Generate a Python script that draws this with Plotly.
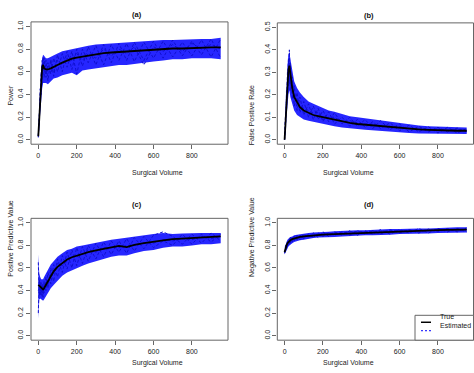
import plotly.graph_objects as go

W, H = 474, 373

# ---------------- data ----------------
volume = [0, 5, 10, 15, 20, 25, 30, 40, 50, 65, 80, 100, 125, 150, 175, 200, 230, 260, 300,
          340, 380, 420, 460, 500, 550, 600, 650, 700, 750, 800, 850, 900, 950]

power_true = [0.03, 0.20, 0.38, 0.52, 0.64, 0.66, 0.63, 0.62, 0.62, 0.63, 0.645, 0.66, 0.68, 0.70, 0.715, 0.725, 0.735,
              0.745, 0.755, 0.765, 0.77, 0.775, 0.78, 0.785, 0.79, 0.795, 0.80, 0.805, 0.805, 0.81, 0.81, 0.815, 0.815]
power_lo = [0.01, 0.12, 0.25, 0.38, 0.45, 0.50, 0.50, 0.50, 0.49, 0.52, 0.54, 0.55, 0.57, 0.58, 0.59, 0.57, 0.61,
            0.62, 0.63, 0.64, 0.65, 0.66, 0.66, 0.67, 0.68, 0.69, 0.70, 0.71, 0.71, 0.72, 0.72, 0.72, 0.71]
power_hi = [0.05, 0.30, 0.50, 0.62, 0.72, 0.75, 0.74, 0.72, 0.72, 0.73, 0.74, 0.76, 0.78, 0.79, 0.80, 0.81, 0.82,
            0.83, 0.84, 0.845, 0.85, 0.855, 0.86, 0.86, 0.87, 0.875, 0.88, 0.88, 0.885, 0.885, 0.89, 0.89, 0.90]
power_est1 = [0.02, 0.22, 0.30, 0.55, 0.70, 0.60, 0.72, 0.55, 0.68, 0.58, 0.72, 0.60, 0.76, 0.64, 0.78, 0.58, 0.80,
              0.68, 0.83, 0.66, 0.84, 0.70, 0.85, 0.69, 0.86, 0.72, 0.87, 0.73, 0.86, 0.74, 0.88, 0.73, 0.89]
power_est2 = [0.04, 0.15, 0.45, 0.40, 0.58, 0.73, 0.55, 0.70, 0.52, 0.71, 0.56, 0.75, 0.60, 0.78, 0.62, 0.80, 0.65,
              0.82, 0.66, 0.84, 0.68, 0.85, 0.70, 0.86, 0.70, 0.87, 0.72, 0.88, 0.74, 0.87, 0.75, 0.89, 0.72]
power_est3 = [0.03, 0.27, 0.35, 0.60, 0.50, 0.68, 0.65, 0.58, 0.64, 0.68, 0.60, 0.70, 0.66, 0.72, 0.70, 0.76, 0.70,
              0.76, 0.72, 0.80, 0.74, 0.80, 0.76, 0.82, 0.66, 0.82, 0.78, 0.84, 0.78, 0.85, 0.80, 0.84, 0.80]

fpr_true = [0.0, 0.08, 0.17, 0.25, 0.31, 0.33, 0.29, 0.23, 0.19, 0.165, 0.145, 0.13, 0.12, 0.11, 0.105, 0.10, 0.095,
            0.09, 0.082, 0.075, 0.07, 0.067, 0.064, 0.06, 0.056, 0.052, 0.048, 0.046, 0.044, 0.042, 0.041, 0.04, 0.04]
fpr_lo = [0.0, 0.03, 0.10, 0.16, 0.20, 0.22, 0.19, 0.16, 0.13, 0.11, 0.10, 0.09, 0.085, 0.08, 0.075, 0.07, 0.065,
          0.06, 0.055, 0.05, 0.048, 0.045, 0.042, 0.04, 0.037, 0.034, 0.03, 0.028, 0.027, 0.026, 0.026, 0.025, 0.025]
fpr_hi = [0.01, 0.14, 0.25, 0.33, 0.38, 0.39, 0.36, 0.30, 0.26, 0.23, 0.21, 0.19, 0.17, 0.16, 0.15, 0.14, 0.13,
          0.125, 0.115, 0.105, 0.10, 0.095, 0.09, 0.085, 0.08, 0.075, 0.068, 0.063, 0.06, 0.058, 0.057, 0.056, 0.055]
fpr_est1 = [0.0, 0.12, 0.13, 0.30, 0.24, 0.40, 0.22, 0.28, 0.15, 0.21, 0.12, 0.17, 0.10, 0.15, 0.09, 0.13, 0.08,
            0.12, 0.07, 0.10, 0.06, 0.09, 0.05, 0.085, 0.045, 0.07, 0.035, 0.06, 0.035, 0.055, 0.035, 0.052, 0.035]
fpr_est2 = [0.01, 0.05, 0.22, 0.20, 0.36, 0.25, 0.34, 0.18, 0.24, 0.13, 0.19, 0.11, 0.16, 0.09, 0.14, 0.08, 0.125,
            0.07, 0.10, 0.06, 0.09, 0.055, 0.08, 0.05, 0.075, 0.04, 0.065, 0.035, 0.058, 0.03, 0.055, 0.03, 0.05]
fpr_est3 = [0.0, 0.10, 0.20, 0.22, 0.33, 0.30, 0.25, 0.25, 0.20, 0.18, 0.15, 0.14, 0.13, 0.12, 0.12, 0.09, 0.10,
            0.10, 0.08, 0.085, 0.075, 0.07, 0.07, 0.06, 0.06, 0.058, 0.05, 0.05, 0.045, 0.048, 0.04, 0.045, 0.042]

ppv_true = [0.45, 0.44, 0.43, 0.42, 0.41, 0.41, 0.42, 0.45, 0.49, 0.53, 0.57, 0.61, 0.645, 0.675, 0.695, 0.71, 0.725,
            0.74, 0.755, 0.77, 0.785, 0.795, 0.785, 0.805, 0.82, 0.835, 0.845, 0.855, 0.86, 0.865, 0.87, 0.875, 0.88]
ppv_lo = [0.15, 0.32, 0.33, 0.32, 0.31, 0.31, 0.32, 0.35, 0.38, 0.42, 0.45, 0.49, 0.53, 0.56, 0.58, 0.60, 0.62,
          0.64, 0.66, 0.68, 0.70, 0.71, 0.71, 0.73, 0.75, 0.76, 0.78, 0.79, 0.79, 0.80, 0.81, 0.81, 0.82]
ppv_hi = [0.72, 0.55, 0.52, 0.50, 0.50, 0.50, 0.52, 0.55, 0.59, 0.63, 0.66, 0.70, 0.73, 0.76, 0.77, 0.79, 0.80,
          0.81, 0.83, 0.84, 0.85, 0.86, 0.87, 0.88, 0.89, 0.90, 0.91, 0.90, 0.905, 0.91, 0.91, 0.91, 0.91]
ppv_est1 = [0.20, 0.50, 0.36, 0.47, 0.35, 0.46, 0.38, 0.52, 0.42, 0.60, 0.48, 0.68, 0.56, 0.74, 0.60, 0.78, 0.64,
            0.80, 0.68, 0.83, 0.72, 0.84, 0.73, 0.87, 0.77, 0.89, 0.92, 0.88, 0.81, 0.90, 0.82, 0.91, 0.84]
ppv_est2 = [0.65, 0.35, 0.48, 0.36, 0.46, 0.34, 0.48, 0.40, 0.56, 0.46, 0.63, 0.52, 0.71, 0.59, 0.76, 0.62, 0.79,
            0.66, 0.82, 0.70, 0.84, 0.74, 0.86, 0.75, 0.88, 0.78, 0.84, 0.80, 0.90, 0.81, 0.90, 0.83, 0.90]
ppv_est3 = [0.40, 0.42, 0.40, 0.40, 0.44, 0.38, 0.44, 0.47, 0.45, 0.55, 0.55, 0.64, 0.62, 0.66, 0.70, 0.70, 0.72,
            0.76, 0.74, 0.78, 0.78, 0.78, 0.80, 0.80, 0.82, 0.82, 0.85, 0.84, 0.86, 0.85, 0.88, 0.86, 0.88]

npv_true = [0.74, 0.78, 0.80, 0.82, 0.83, 0.84, 0.845, 0.855, 0.86, 0.87, 0.875, 0.88, 0.885, 0.89, 0.893, 0.895, 0.898,
            0.90, 0.905, 0.91, 0.912, 0.915, 0.918, 0.92, 0.922, 0.925, 0.928, 0.93, 0.932, 0.935, 0.937, 0.94, 0.94]
npv_lo = [0.72, 0.74, 0.76, 0.78, 0.79, 0.80, 0.81, 0.82, 0.83, 0.84, 0.845, 0.85, 0.86, 0.865, 0.87, 0.87, 0.875,
          0.875, 0.88, 0.885, 0.885, 0.89, 0.89, 0.89, 0.895, 0.90, 0.90, 0.905, 0.905, 0.91, 0.91, 0.91, 0.915]
npv_hi = [0.76, 0.81, 0.83, 0.85, 0.86, 0.87, 0.875, 0.88, 0.89, 0.895, 0.90, 0.905, 0.91, 0.915, 0.915, 0.92, 0.92,
          0.925, 0.93, 0.93, 0.935, 0.935, 0.94, 0.94, 0.945, 0.945, 0.95, 0.95, 0.95, 0.955, 0.955, 0.96, 0.96]
npv_est1 = [0.73, 0.80, 0.77, 0.84, 0.80, 0.86, 0.82, 0.87, 0.84, 0.89, 0.85, 0.90, 0.87, 0.91, 0.87, 0.92, 0.88,
            0.92, 0.89, 0.93, 0.89, 0.93, 0.90, 0.94, 0.90, 0.94, 0.91, 0.95, 0.91, 0.95, 0.92, 0.95, 0.92]
npv_est2 = [0.75, 0.75, 0.82, 0.79, 0.85, 0.81, 0.87, 0.83, 0.88, 0.85, 0.89, 0.86, 0.90, 0.87, 0.91, 0.88, 0.91,
            0.89, 0.92, 0.89, 0.93, 0.90, 0.93, 0.90, 0.94, 0.91, 0.94, 0.91, 0.945, 0.92, 0.95, 0.92, 0.955]
npv_est3 = [0.74, 0.78, 0.79, 0.81, 0.83, 0.83, 0.85, 0.85, 0.86, 0.86, 0.87, 0.87, 0.89, 0.88, 0.90, 0.90, 0.90,
            0.91, 0.91, 0.92, 0.92, 0.92, 0.925, 0.925, 0.93, 0.93, 0.935, 0.935, 0.935, 0.94, 0.94, 0.945, 0.94]

x_ticks = [0, 200, 400, 600, 800]
y_ticks_unit = [0.0, 0.2, 0.4, 0.6, 0.8, 1.0]
y_ticks_fpr = [0.0, 0.1, 0.2, 0.3, 0.4, 0.5]

panels = [
    dict(title="(a)", ylabel="Power", true=power_true, lo=power_lo, hi=power_hi,
         est=[power_est1, power_est2, power_est3], yticks=y_ticks_unit, yrange=[-0.04, 1.04],
         box=(31, 228, 20, 143)),
    dict(title="(b)", ylabel="False Positive Rate", true=fpr_true, lo=fpr_lo, hi=fpr_hi,
         est=[fpr_est1, fpr_est2, fpr_est3], yticks=y_ticks_fpr, yrange=[-0.02, 0.52],
         box=(277.3, 474, 21, 143)),
    dict(title="(c)", ylabel="Positive Predictive Value", true=ppv_true, lo=ppv_lo, hi=ppv_hi,
         est=[ppv_est1, ppv_est2, ppv_est3], yticks=y_ticks_unit, yrange=[-0.04, 1.04],
         box=(31, 228, 217.5, 340)),
    dict(title="(d)", ylabel="Negative Predictive Value", true=npv_true, lo=npv_lo, hi=npv_hi,
         est=[npv_est1, npv_est2, npv_est3], yticks=y_ticks_unit, yrange=[-0.04, 1.04],
         box=(277.3, 474, 217.5, 340)),
]

FONT = "Liberation Sans, Arial, sans-serif"
BLUE = "#0000ff"
GRAY = "#666666"

def px(x):
    return x / W

def py(y):
    return 1 - y / H

fig = go.Figure()
annotations = []
shapes = []
layout_axes = {}

for i, p in enumerate(panels):
    n = "" if i == 0 else str(i + 1)
    xa, ya = "x" + n, "y" + n
    x0, x1, y0, y1 = p["box"]
    # band of estimated curves
    fig.add_trace(go.Scatter(x=volume, y=p["lo"], xaxis=xa, yaxis=ya, mode="lines",
                             line=dict(width=0), showlegend=False, hoverinfo="skip"))
    fig.add_trace(go.Scatter(x=volume, y=p["hi"], xaxis=xa, yaxis=ya, mode="lines",
                             line=dict(width=0), fill="tonexty", fillcolor="rgba(0,0,255,0.85)",
                             showlegend=False, hoverinfo="skip"))
    for est in p["est"]:
        fig.add_trace(go.Scatter(x=volume, y=est, xaxis=xa, yaxis=ya, mode="lines",
                                 line=dict(color="#1010d0", width=1, dash="3px,2px"), showlegend=False))
    fig.add_trace(go.Scatter(x=volume, y=p["true"], xaxis=xa, yaxis=ya, mode="lines",
                             line=dict(color="black", width=1.8), showlegend=False))

    layout_axes["xaxis" + n] = dict(
        domain=[px(x0), px(x1)], range=[-38, 988], anchor=ya,
        tickvals=x_ticks, ticktext=[str(v) for v in x_ticks], ticks="outside", ticklen=4,
        tickcolor=GRAY, tickwidth=1, showgrid=False, zeroline=False, showline=False,
        tickfont=dict(family=FONT, size=7, color="#222"))
    layout_axes["yaxis" + n] = dict(
        domain=[py(y1), py(y0)], range=p["yrange"], anchor=xa,
        tickvals=p["yticks"], ticktext=["%.1f" % v for v in p["yticks"]], tickangle=-90,
        ticks="outside", ticklen=4, tickcolor=GRAY, tickwidth=1, showgrid=False,
        zeroline=False, showline=False, tickfont=dict(family=FONT, size=7, color="#222"))

    shapes.append(dict(type="rect", xref="paper", yref="paper", x0=px(x0), x1=px(min(x1, 473.5)),
                       y0=py(y1), y1=py(y0), line=dict(color=GRAY, width=1)))
    cx = (x0 + x1) / 2
    annotations.append(dict(text="<b>%s</b>" % p["title"], x=px(cx), y=py(y0 - 14), xref="paper",
                            yref="paper", showarrow=False, font=dict(family=FONT, size=7.5, color="#111")))
    annotations.append(dict(text="Surgical Volume", x=px(cx), y=py(y1 + 29), xref="paper",
                            yref="paper", showarrow=False, font=dict(family=FONT, size=7, color="#222")))
    annotations.append(dict(text=p["ylabel"], x=px(x0 - 25.5), y=py((y0 + y1) / 2), xref="paper",
                            yref="paper", showarrow=False, textangle=-90,
                            font=dict(family=FONT, size=7, color="#222")))

# legend (bottom right of panel d)
lx0, ly0, ly1 = 415, 315, 340
shapes.append(dict(type="rect", xref="paper", yref="paper", x0=px(lx0), x1=px(473.5),
                   y0=py(ly1), y1=py(ly0), line=dict(color=GRAY, width=1), fillcolor="white"))
shapes.append(dict(type="line", xref="paper", yref="paper", x0=px(421), x1=px(431),
                   y0=py(322), y1=py(322), line=dict(color="black", width=1.5)))
shapes.append(dict(type="line", xref="paper", yref="paper", x0=px(421), x1=px(431),
                   y0=py(330.5), y1=py(330.5), line=dict(color=BLUE, width=1, dash="2px,2px")))
annotations.append(dict(text="True", x=px(438), y=py(322), xref="paper", yref="paper",
                        xanchor="left", showarrow=False, font=dict(family=FONT, size=7, color="#222")))
annotations.append(dict(text="Estimated", x=px(438), y=py(330.5), xref="paper", yref="paper",
                        xanchor="left", showarrow=False, font=dict(family=FONT, size=7, color="#222")))

fig.update_layout(width=W, height=H, margin=dict(l=0, r=0, t=0, b=0),
                  paper_bgcolor="white", plot_bgcolor="white", showlegend=False,
                  annotations=annotations, shapes=shapes, **layout_axes)

fig.write_html("out.html", config={"displayModeBar": False},
               post_script="document.body.style.margin='0';document.body.style.overflow='hidden';")
